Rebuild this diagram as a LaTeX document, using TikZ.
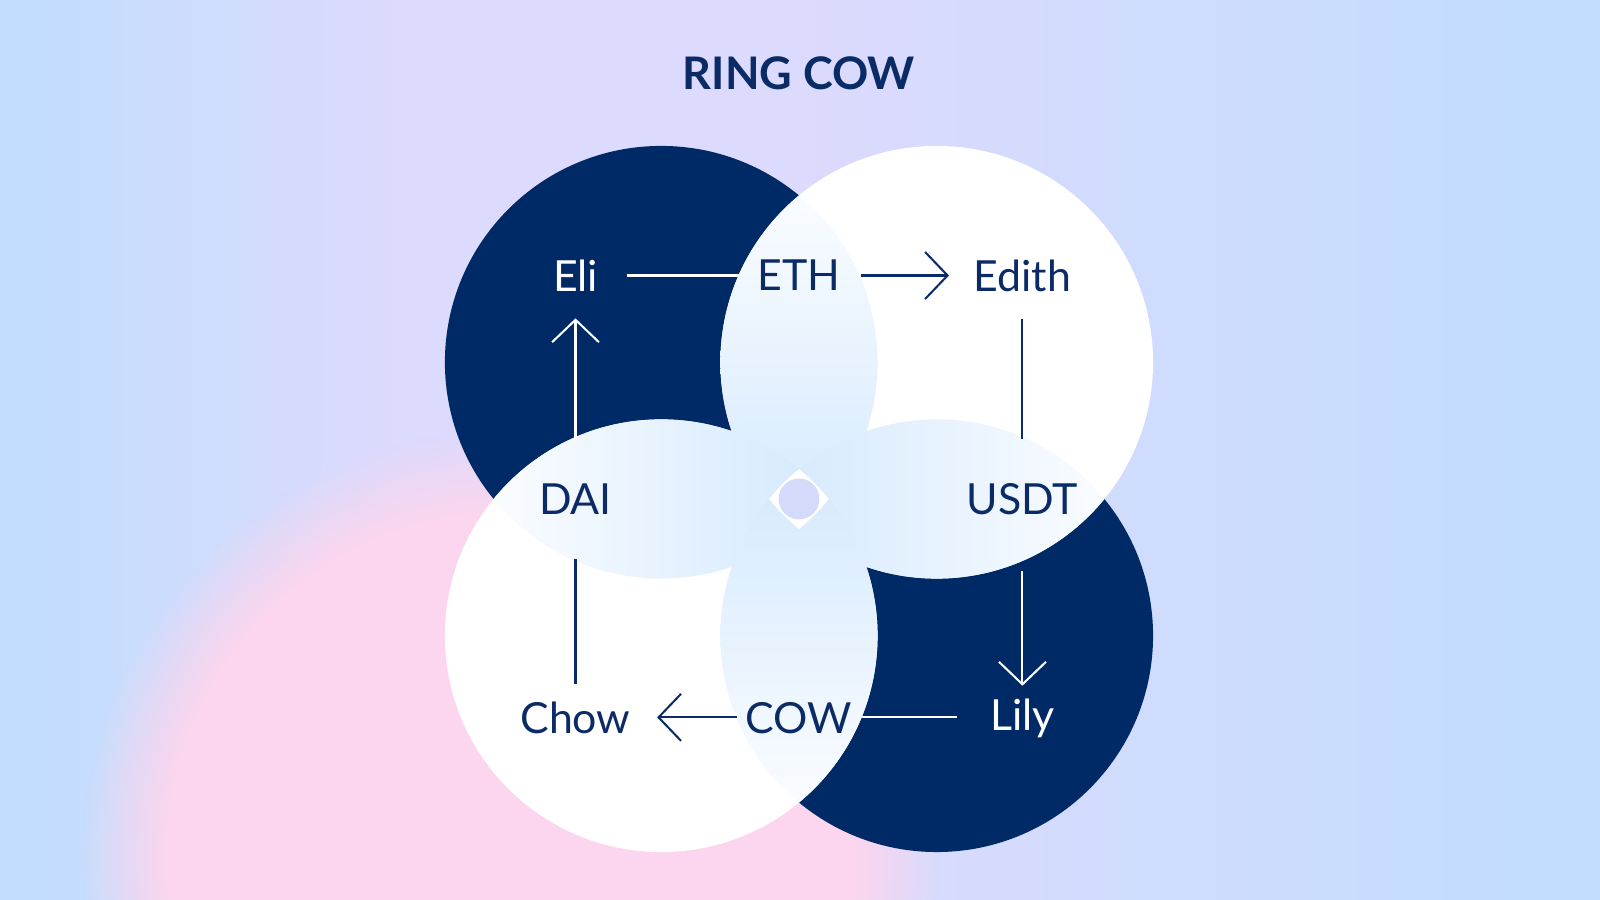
\documentclass[tikz,border=0pt]{standalone}
\usepackage{fontspec}
\setmainfont{Lato}
\usetikzlibrary{arrows.meta,fadings}
\definecolor{navy}{HTML}{002A66}
\definecolor{tnavy}{HTML}{0B2B66}
\definecolor{lblue}{HTML}{CFE6FD}
\definecolor{bgblue}{HTML}{C0DEFD}
\definecolor{bglav}{HTML}{DCDAFD}
\definecolor{bgpink}{HTML}{FCD6EE}
\definecolor{dotc}{HTML}{D4DAFA}
\begin{document}
\begin{tikzpicture}[x=0.5pt,y=-0.5pt,
  lab/.style={font=\fontsize{21}{25}\selectfont},
  conn/.style={line width=1pt},
  tip/.style={-{Straight Barb[length=11pt,width=23pt,line width=1pt]}}]
\useasboundingbox (0,0) rectangle (1568,882);
\shade[left color=bgblue,right color=bglav,middle color=bglav] (0,0) rectangle (784,882);
\shade[left color=bglav,right color=bgblue] (784,0) rectangle (1568,882);
\fill[bgpink,path fading=circle with fuzzy edge 20 percent] (500,840) circle (420);
% circles
\fill[navy] (648,355) circle (212);
\fill[navy] (918,623) circle (212);
\fill[white] (918,355) circle (212);
\fill[white] (648,623) circle (212);
% lenses
\begin{scope}\clip (648,355) circle (212); \shade[top color=white,bottom color=lblue] (918,355) circle (212);\end{scope}
\begin{scope}\clip (648,355) circle (212); \shade[left color=white,right color=lblue] (648,623) circle (212);\end{scope}
\begin{scope}\clip (918,623) circle (212); \shade[left color=lblue,right color=white] (918,355) circle (212);\end{scope}
\begin{scope}\clip (918,623) circle (212); \shade[top color=lblue,bottom color=white] (648,623) circle (212);\end{scope}
\begin{scope}\clip (648,355) circle (212); \clip (918,355) circle (212); \clip (648,623) circle (212); \fill[white] (918,623) circle (212);\end{scope}
\fill[dotc] (783,489) circle (20);
% title
\node[font=\fontsize{22}{26}\selectfont\bfseries,text=tnavy] (title) at (783,72) {RING COW};
% labels
\node[lab,text=white] (eli) at (564,270) {Eli};
\node[lab,text=tnavy] (eth) at (783,270) {ETH};
\node[lab,text=tnavy] (edith) at (1002,270) {Edith};
\node[lab,text=tnavy] (dai) at (564,489) {DAI};
\node[lab,text=tnavy] (usdt) at (1002,489) {USDT};
\node[lab,text=tnavy] (chow) at (564,704) {Chow};
\node[lab,text=tnavy] (cow) at (783,704) {COW};
\node[lab,text=white] (lily) at (1002,704) {Lily};
\coordinate (a1) at (614,270); \coordinate (a2) at (724,270);
\coordinate (b1) at (844,270); \coordinate (b2) at (930,270);
\coordinate (c1) at (1002,313); \coordinate (c2) at (1002,430);
\coordinate (d1) at (1002,560); \coordinate (d2) at (1002,672);
\coordinate (e1) at (938,703); \coordinate (e2) at (845,703);
\coordinate (f1) at (722,703); \coordinate (f2) at (644,703);
\coordinate (g1) at (564,670); \coordinate (g2) at (564,548);
\coordinate (h1) at (564,430); \coordinate (h2) at (564,312);
\draw[conn,white] (a1) -- (a2);
\draw[conn,tnavy,tip] (b1) -- (b2);
\draw[conn,tnavy] (c1) -- (c2);
\draw[conn,white,tip] (d1) -- (d2);
\draw[conn,white] (e1) -- (e2);
\draw[conn,tnavy,tip] (f1) -- (f2);
\draw[conn,tnavy] (g1) -- (g2);
\draw[conn,white,tip] (h1) -- (h2);
\end{tikzpicture}
\end{document}
